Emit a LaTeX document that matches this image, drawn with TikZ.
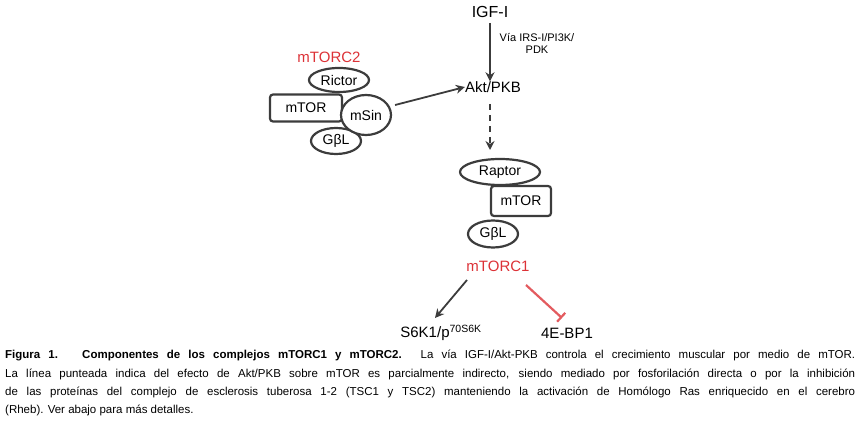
\documentclass[tikz,border=0pt]{standalone}
\usepackage{fontspec}
\setmainfont{Liberation Sans}
\usetikzlibrary{arrows.meta,shapes.geometric}
\definecolor{tred}{RGB}{220,50,55}
\definecolor{dgray}{RGB}{60,60,60}
\begin{document}
\begin{tikzpicture}[x=1pt,y=-1pt,
  lab/.style={font=\fontsize{15}{15}\selectfont,inner sep=0},
  prot/.style={draw=dgray,line width=2.2pt,fill=white,font=\fontsize{14}{14}\selectfont,inner sep=0},
  ell/.style={prot,ellipse},
  box/.style={prot,rectangle,rounded corners=3pt},
  arr/.style={draw=dgray,line width=1.8pt,-{Stealth[length=9pt,width=9pt]}},
  captxt/.style={anchor=west,inner sep=0,font=\fontsize{11.5}{12}\selectfont}]
\useasboundingbox (0,0) rectangle (865,422);
\node[lab,font=\fontsize{16}{16}\selectfont] (igf) at (490,12) {IGF-I};
\node[lab] (akt) at (493,87) {Akt/PKB};
\node[inner sep=0,align=center,font=\fontsize{11}{12}\selectfont] (via) at (537,43) {Vía IRS-I/PI3K/\\PDK};
\draw[arr] (igf.south) ++(0,5) coordinate (a1) -- (akt.north -| a1) coordinate (a2);
\node[lab,text=tred] (m2) at (329,57) {mTORC2};
\node[box,minimum width=72,minimum height=27] (mtor2) at (306,108) {mTOR};
\node[ell,minimum width=60,minimum height=24] (rictor) at (339,80) {Rictor};
\node[ell,minimum width=50,minimum height=26] (gbl2) at (336,141) {GβL};
\node[ell,minimum width=50,minimum height=40] (msin) at (366,115) {mSin};
\draw[arr] (msin.east) ++(3,-10) coordinate (b1) -- (akt.west);
\node[box,minimum width=60,minimum height=30] (mtor1) at (521,201) {mTOR};
\node[ell,minimum width=80,minimum height=26] (raptor) at (500,172) {Raptor};
\node[ell,minimum width=50,minimum height=27] (gbl1) at (493,234) {GβL};
\node[lab,text=tred] (m1) at (498,266) {mTORC1};
\coordinate (d1) at (490,104);
\coordinate (d2) at (490,150);
\draw[arr,dash pattern=on 6pt off 5pt] (d1) -- (d2);
\node[lab] (s6k) at (441,333) {S6K1/p\textsuperscript{70S6K}};
\node[lab] (bp) at (567,333) {4E-BP1};
\coordinate (e1) at (467,280);
\coordinate (e2) at (435,318);
\draw[arr] (e1) -- (e2);
\coordinate (f1) at (526,285);
\coordinate (f2) at (562,318);
\draw[draw=tred!80,line width=2.2pt,-{Bar[width=12pt]}] (f1) -- (f2);
\node[captxt] (c1) at (5,355) {\makebox[850pt][s]{\textbf{Figura 1.\ \ \ Componentes de los complejos mTORC1 y mTORC2.} La vía IGF-I/Akt-PKB controla el crecimiento muscular por medio de mTOR.}};
\node[captxt] (c2) at (5,374) {\makebox[850pt][s]{La línea punteada indica del efecto de Akt/PKB sobre mTOR es parcialmente indirecto, siendo mediado por fosforilación directa o por la inhibición}};
\node[captxt] (c3) at (5,392) {\makebox[850pt][s]{de las proteínas del complejo de esclerosis tuberosa 1-2 (TSC1 y TSC2) manteniendo la activación de Homólogo Ras enriquecido en el cerebro}};
\node[captxt] (c4) at (5,410) {(Rheb). Ver abajo para más detalles.};
\end{tikzpicture}
\end{document}
